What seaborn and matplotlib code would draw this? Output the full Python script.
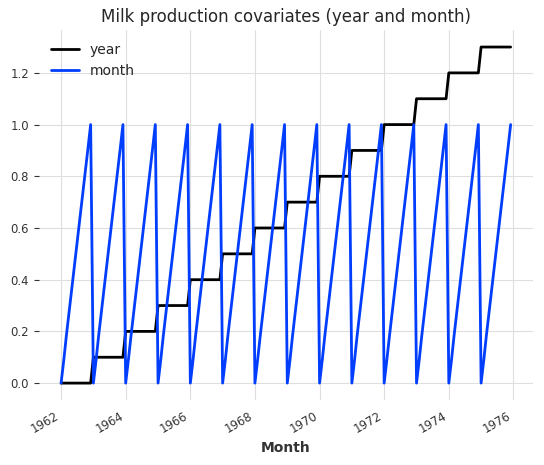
import seaborn as sns
import pandas as pd
import numpy as np
import matplotlib.pyplot as plt

# covariate values: one year value per calendar year, 12 month values per year
years = list(range(1962, 1976))
year_values = [0.0, 0.1, 0.2, 0.3, 0.4, 0.5, 0.6, 0.7, 0.8, 0.9, 1.0, 1.1, 1.2, 1.3]
month_values = [0.0, 0.091, 0.182, 0.273, 0.364, 0.455, 0.545, 0.636, 0.727, 0.818, 0.909, 1.0]

dates = pd.date_range("1962-01-01", periods=len(years) * 12, freq="MS")
df = pd.DataFrame({
    "Month": dates,
    "year": [year_values[years.index(d.year)] for d in dates],
    "month": [month_values[d.month - 1] for d in dates],
})

sns.set_style("white")
plt.rcParams.update({
    "font.family": ["DejaVu Sans"],
    "axes.grid": True,
    "grid.color": "#dedede",
    "axes.spines.top": False,
    "axes.spines.right": False,
    "axes.spines.bottom": False,
    "axes.spines.left": False,
    "axes.labelcolor": "#333333",
    "xtick.color": "#333333",
    "ytick.color": "#333333",
    "xtick.labelsize": "small",
    "ytick.labelsize": "small",
    "ytick.left": True,
    "xtick.bottom": False,
    "legend.frameon": False,
})

fig, ax = plt.subplots(figsize=(5.44, 4.65), dpi=100)
fig.subplots_adjust(left=0.071, right=0.980, top=0.935, bottom=0.140)

sns.lineplot(data=df, x="Month", y="year", ax=ax, color="black", lw=2, label="year")
sns.lineplot(data=df, x="Month", y="month", ax=ax, color="#003DFD", lw=2, label="month")

ax.set_title("Milk production covariates (year and month)", fontsize=12)
ax.set_xlabel("Month", fontweight="bold")
ax.set_ylabel("")
ax.legend(loc="upper left")
fig.autofmt_xdate()
fig.subplots_adjust(left=0.071, right=0.980, top=0.935, bottom=0.140)

fig.savefig("out.png")
